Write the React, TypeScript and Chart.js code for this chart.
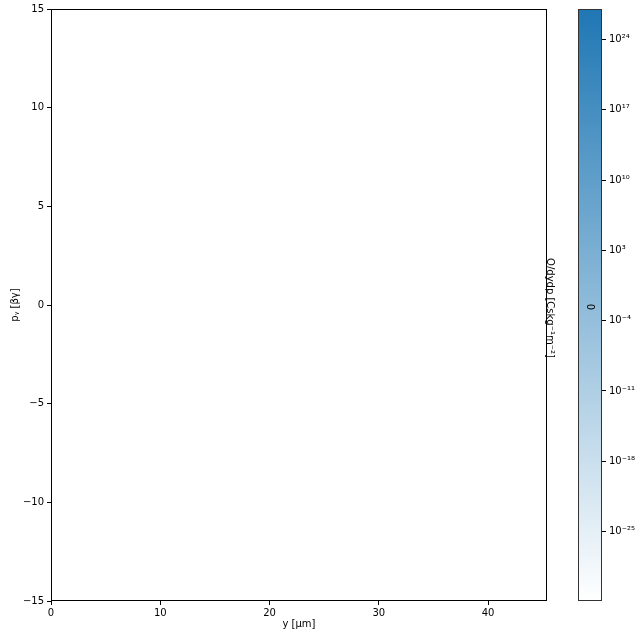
import React, { useEffect, useRef } from "react";
import { Chart, registerables } from "chart.js";

Chart.register(...registerables);

// Data (the reference plot contains no marks)
const seriesPoints: { x: number; y: number }[] = [];
const xTicks = [0, 10, 20, 30, 40];
const yTicks = [-15, -10, -5, 0, 5, 10, 15];
const xRange = [0, 45.4];
const yRange = [-15, 15];
const cbarExponents = [-25, -18, -11, -4, 3, 10, 17, 24];
const cbarRange = [-31.93, 27.05];
const xTitle = "y [µm]";
const yTitle = "pᵧ [βγ]";
const cbarLabel = "Q/dydp [Cskg⁻¹m⁻²]";
const cbarCenterText = "0";

const FONT = "'DejaVu Sans', sans-serif";
const sup: Record<string, string> = {
  "0": "⁰", "1": "¹", "2": "²", "3": "³", "4": "⁴",
  "5": "⁵", "6": "⁶", "7": "⁷", "8": "⁸", "9": "⁹", "-": "⁻",
};
const toSup = (n: number) => String(n).split("").map((c) => sup[c] ?? c).join("");
const fmtNum = (v: number) => (v < 0 ? "\u2212" + Math.abs(v) : String(v));

export default function App() {
  const mainRef = useRef<HTMLCanvasElement | null>(null);
  const cbarRef = useRef<HTMLCanvasElement | null>(null);

  useEffect(() => {
    if (!mainRef.current || !cbarRef.current) return;

    const framePlugin = {
      id: "frame",
      afterDraw(chart: any) {
        const { ctx, chartArea: a } = chart;
        ctx.save();
        ctx.strokeStyle = "#000";
        ctx.lineWidth = 1;
        ctx.strokeRect(a.left + 0.5, a.top + 0.5, a.right - a.left - 1, a.bottom - a.top - 1);
        ctx.restore();
      },
    };

    const main = new Chart(mainRef.current, {
      type: "scatter",
      data: { datasets: [{ data: seriesPoints, backgroundColor: "#1f77b4" }] },
      options: {
        animation: false,
        responsive: false,
        devicePixelRatio: 1,
        layout: { padding: { left: 0, top: 9, right: 92, bottom: 0 } },
        plugins: { legend: { display: false }, tooltip: { enabled: false } },
        scales: {
          x: {
            type: "linear",
            min: xRange[0],
            max: xRange[1],
            afterBuildTicks: (s: any) => { s.ticks = xTicks.map((v) => ({ value: v })); },
            afterFit: (s: any) => { s.height = 33; },
            grid: { drawOnChartArea: false, drawTicks: true, tickLength: 4, color: "#000" },
            border: { display: false },
            ticks: { color: "#000", font: { family: FONT, size: 10 }, padding: 2, maxRotation: 0, callback: (v: any) => fmtNum(Number(v)) },
            title: { display: true, text: xTitle, color: "#000", font: { family: FONT, size: 10 }, padding: { top: 2, bottom: 4 } },
          },
          y: {
            type: "linear",
            min: yRange[0],
            max: yRange[1],
            afterBuildTicks: (s: any) => { s.ticks = yTicks.map((v) => ({ value: v })); },
            afterFit: (s: any) => { s.width = 51; },
            grid: { drawOnChartArea: false, drawTicks: true, tickLength: 4, color: "#000" },
            border: { display: false },
            ticks: { color: "#000", font: { family: FONT, size: 10 }, padding: 3, callback: (v: any) => fmtNum(Number(v)) },
            title: { display: true, text: yTitle, color: "#000", font: { family: FONT, size: 10 }, padding: { top: 9, bottom: 4 } },
          },
        },
      },
      plugins: [framePlugin],
    } as any);

    const cbarPlugin = {
      id: "cbar",
      beforeDatasetsDraw(chart: any) {
        const { ctx, chartArea: a } = chart;
        const g = ctx.createLinearGradient(0, a.bottom, 0, a.top);
        g.addColorStop(0, "#ffffff");
        g.addColorStop(1, "#1f77b4");
        ctx.save();
        ctx.fillStyle = g;
        ctx.fillRect(a.left, a.top, a.right - a.left, a.bottom - a.top);
        ctx.restore();
      },
      afterDraw(chart: any) {
        const { ctx, chartArea: a } = chart;
        ctx.save();
        ctx.strokeStyle = "#333";
        ctx.lineWidth = 1;
        ctx.strokeRect(a.left + 0.5, a.top + 0.5, a.right - a.left - 1, a.bottom - a.top - 1);
        ctx.fillStyle = "#000";
        ctx.font = `10px ${FONT}`;
        ctx.textAlign = "center";
        ctx.textBaseline = "middle";
        const midY = (a.top + a.bottom) / 2;
        ctx.save();
        ctx.translate((a.left + a.right) / 2, midY + 2);
        ctx.rotate(Math.PI / 2);
        ctx.fillText(cbarCenterText, 0, 0);
        ctx.restore();
        ctx.save();
        ctx.translate(550, midY + 3);
        ctx.rotate(Math.PI / 2);
        ctx.fillText(cbarLabel, 0, 0);
        ctx.restore();
        ctx.restore();
      },
    };

    const cbar = new Chart(cbarRef.current, {
      type: "scatter",
      data: { datasets: [] },
      options: {
        animation: false,
        responsive: false,
        devicePixelRatio: 1,
        layout: { padding: { left: 578, top: 9, right: 0, bottom: 33 } },
        plugins: { legend: { display: false }, tooltip: { enabled: false } },
        scales: {
          x: { type: "linear", display: false, min: 0, max: 1 },
          y: {
            type: "linear",
            position: "right",
            min: cbarRange[0],
            max: cbarRange[1],
            afterBuildTicks: (s: any) => { s.ticks = cbarExponents.map((v) => ({ value: v })); },
            afterFit: (s: any) => { s.width = 37; },
            grid: { drawOnChartArea: false, drawTicks: true, tickLength: 4, color: "#000" },
            border: { display: false },
            ticks: { color: "#000", font: { family: FONT, size: 10 }, padding: 3, callback: (v: any) => "10" + toSup(Number(v)) },
          },
        },
      },
      plugins: [cbarPlugin],
    } as any);

    return () => {
      main.destroy();
      cbar.destroy();
    };
  }, []);

  return (
    <div style={{ position: "fixed", left: 0, top: 0, width: 639, height: 634, background: "#fff" }}>
      <canvas ref={mainRef} width={639} height={634} style={{ position: "absolute", left: 0, top: 0, width: 639, height: 634 }} />
      <canvas ref={cbarRef} width={639} height={634} style={{ position: "absolute", left: 0, top: 0, width: 639, height: 634, pointerEvents: "none" }} />
    </div>
  );
}
